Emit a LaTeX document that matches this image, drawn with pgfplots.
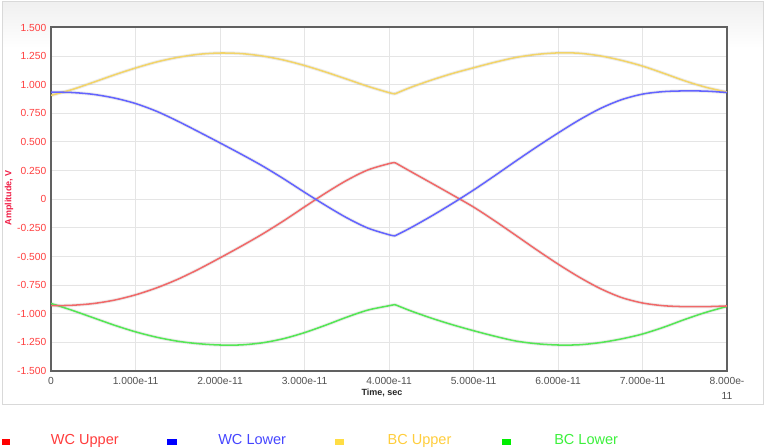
\documentclass[border=0pt]{standalone}
\usepackage{pgfplots}
\pgfplotsset{compat=1.18}
\usepackage{pgfplotstable}
\usepackage{fontspec}
\setmainfont{Liberation Sans}

\definecolor{tickred}{RGB}{255,64,64}
\definecolor{labred}{RGB}{240,30,70}
\definecolor{lred}{RGB}{240,105,105}
\definecolor{lblue}{RGB}{100,100,255}
\definecolor{lyellow}{RGB}{242,212,105}
\definecolor{lgreen}{RGB}{85,230,85}
\definecolor{kyellow}{RGB}{255,221,68}
\definecolor{kgreen}{RGB}{0,238,0}
\definecolor{tred}{RGB}{255,60,60}
\definecolor{tblue}{RGB}{70,70,255}
\definecolor{tyellow}{RGB}{255,205,60}
\definecolor{tgreen}{RGB}{60,240,60}

% time in units of 1e-11 s
\pgfplotstableread{
t v
0 -0.930
0.25 -0.926
0.5 -0.911
0.75 -0.881
1.0 -0.835
1.25 -0.774
1.5 -0.699
1.75 -0.610
2.0 -0.512
2.25 -0.411
2.5 -0.305
2.75 -0.190
3.0 -0.067
3.25 0.054
3.5 0.165
3.75 0.256
4.0 0.311
4.07 0.320
}\wcuA
\pgfplotstableread{
t v
4.07 0.320
4.25 0.245
4.5 0.142
4.75 0.038
5.0 -0.068
5.25 -0.188
5.5 -0.315
5.75 -0.443
6.0 -0.566
6.25 -0.680
6.5 -0.780
6.75 -0.858
7.0 -0.906
7.25 -0.930
7.5 -0.938
7.75 -0.938
8.0 -0.932
}\wcuB
\pgfplotstableread{
t v
0 0.936
0.25 0.932
0.5 0.916
0.75 0.884
1.0 0.836
1.25 0.768
1.5 0.682
1.75 0.588
2.0 0.492
2.25 0.394
2.5 0.292
2.75 0.180
3.0 0.061
3.25 -0.054
3.5 -0.162
3.75 -0.252
4.0 -0.310
4.07 -0.320
}\wclA
\pgfplotstableread{
t v
4.07 -0.320
4.25 -0.252
4.5 -0.148
4.75 -0.037
5.0 0.080
5.25 0.205
5.5 0.333
5.75 0.458
6.0 0.578
6.25 0.692
6.5 0.792
6.75 0.869
7.0 0.918
7.25 0.940
7.5 0.946
7.75 0.944
8.0 0.932
}\wclB
\pgfplotstableread{
t v
0 0.907
0.25 0.958
0.5 1.021
0.75 1.086
1.0 1.146
1.25 1.199
1.5 1.239
1.75 1.266
2.0 1.277
2.25 1.272
2.5 1.251
2.75 1.216
3.0 1.168
3.25 1.111
3.5 1.049
3.75 0.986
4.0 0.931
4.07 0.920
}\bcuA
\pgfplotstableread{
t v
4.07 0.920
4.25 0.975
4.5 1.040
4.75 1.098
5.0 1.148
5.25 1.196
5.5 1.238
5.75 1.265
6.0 1.278
6.25 1.275
6.5 1.252
6.75 1.213
7.0 1.163
7.25 1.100
7.5 1.034
7.75 0.978
8.0 0.936
}\bcuB
\pgfplotstableread{
t v
0 -0.910
0.25 -0.970
0.5 -1.035
0.75 -1.100
1.0 -1.158
1.25 -1.205
1.5 -1.240
1.75 -1.262
2.0 -1.273
2.25 -1.272
2.5 -1.254
2.75 -1.218
3.0 -1.165
3.25 -1.100
3.5 -1.030
3.75 -0.968
4.0 -0.930
4.07 -0.920
}\bclA
\pgfplotstableread{
t v
4.07 -0.920
4.25 -0.973
4.5 -1.038
4.75 -1.096
5.0 -1.148
5.25 -1.196
5.5 -1.238
5.75 -1.262
6.0 -1.273
6.25 -1.271
6.5 -1.252
6.75 -1.220
7.0 -1.177
7.25 -1.118
7.5 -1.050
7.75 -0.988
8.0 -0.936
}\bclB

\pgfplotsset{
  halo/.style={line width=2.6pt, black, opacity=0.07, smooth, tension=0.5},
  ser/.style={line width=1.15pt, smooth, tension=0.5},
}

\begin{document}
\begin{tikzpicture}
\path[use as bounding box] (0pt,0pt) rectangle (576pt,336pt);
% panel
\fill[white] (1.5pt,32.25pt) rectangle (572.25pt,334.5pt);
\shade[top color=black!6, bottom color=white] (1.5pt,334.5pt) rectangle (572.25pt,300pt);
\draw[black!15, line width=0.75pt] (1.5pt,32.25pt) rectangle (572.25pt,334.5pt);

\begin{axis}[
  at={(38.25pt,57.75pt)}, anchor=south west,
  scale only axis, width=507pt, height=257.625pt,
  xmin=0, xmax=8, ymin=-1.5, ymax=1.5,
  xtick={0,1,2,3,4,5,6,7,8},
  ytick={-1.5,-1.25,-1,-0.75,-0.5,-0.25,0,0.25,0.5,0.75,1,1.25,1.5},
  xticklabels={0,1.000e-11,2.000e-11,3.000e-11,4.000e-11,5.000e-11,6.000e-11,7.000e-11,{8.000e-\\11}},
  yticklabels={-1.500,-1.250,-1.000,-0.750,-0.500,-0.250,0,0.250,0.500,0.750,1.000,1.250,1.500},
  major tick length=0pt,
  grid=major,
  grid style={draw=black!10, line width=0.75pt},
  axis line style={draw=black!62, line width=1.5pt},
  xticklabel style={font=\fontsize{7.7pt}{10.7pt}\selectfont, text=black!68, align=center, yshift=-1.5pt},
  yticklabel style={font=\fontsize{7.7pt}{9pt}\selectfont, text=tickred},
  axis background/.style={fill=white},
]
\addplot[halo] table[x=t,y=v] {\wcuA};
\addplot[halo] table[x=t,y=v] {\wcuB};
\addplot[halo] table[x=t,y=v] {\wclA};
\addplot[halo] table[x=t,y=v] {\wclB};
\addplot[halo] table[x=t,y=v] {\bcuA};
\addplot[halo] table[x=t,y=v] {\bcuB};
\addplot[halo] table[x=t,y=v] {\bclA};
\addplot[halo] table[x=t,y=v] {\bclB};
\addplot[ser, lyellow] table[x=t,y=v] {\bcuA};
\addplot[ser, lyellow] table[x=t,y=v] {\bcuB};
\addplot[ser, lgreen] table[x=t,y=v] {\bclA};
\addplot[ser, lgreen] table[x=t,y=v] {\bclB};
\addplot[ser, lred] table[x=t,y=v] {\wcuA};
\addplot[ser, lred] table[x=t,y=v] {\wcuB};
\addplot[ser, lblue] table[x=t,y=v] {\wclA};
\addplot[ser, lblue] table[x=t,y=v] {\wclB};
\end{axis}

% axis titles
\node[font=\bfseries\fontsize{6.75pt}{8pt}\selectfont, text=black!85] at (286.5pt,41.5pt) {Time, sec};
\node[font=\bfseries\fontsize{6.75pt}{8pt}\selectfont, text=labred, rotate=90] at (6.75pt,187.5pt) {Amplitude, V};

% legend
\fill[red] (1.3pt,2.25pt) rectangle (7.5pt,6.6pt);
\fill[blue] (125.4pt,2.25pt) rectangle (132.6pt,6.6pt);
\fill[kyellow] (251.3pt,2.25pt) rectangle (258pt,6.6pt);
\fill[kgreen] (376.3pt,2.25pt) rectangle (383pt,6.6pt);
\begin{scope}[every node/.style={anchor=base west, inner sep=0pt, font=\fontsize{10.9pt}{12pt}\selectfont}]
\node[text=tred] at (38pt,2.25pt) {WC Upper};
\node[text=tblue] at (163.5pt,2.25pt) {WC Lower};
\node[text=tyellow] at (290.5pt,2.25pt) {BC Upper};
\node[text=tgreen] at (415.5pt,2.25pt) {BC Lower};
\end{scope}
\end{tikzpicture}
\end{document}
